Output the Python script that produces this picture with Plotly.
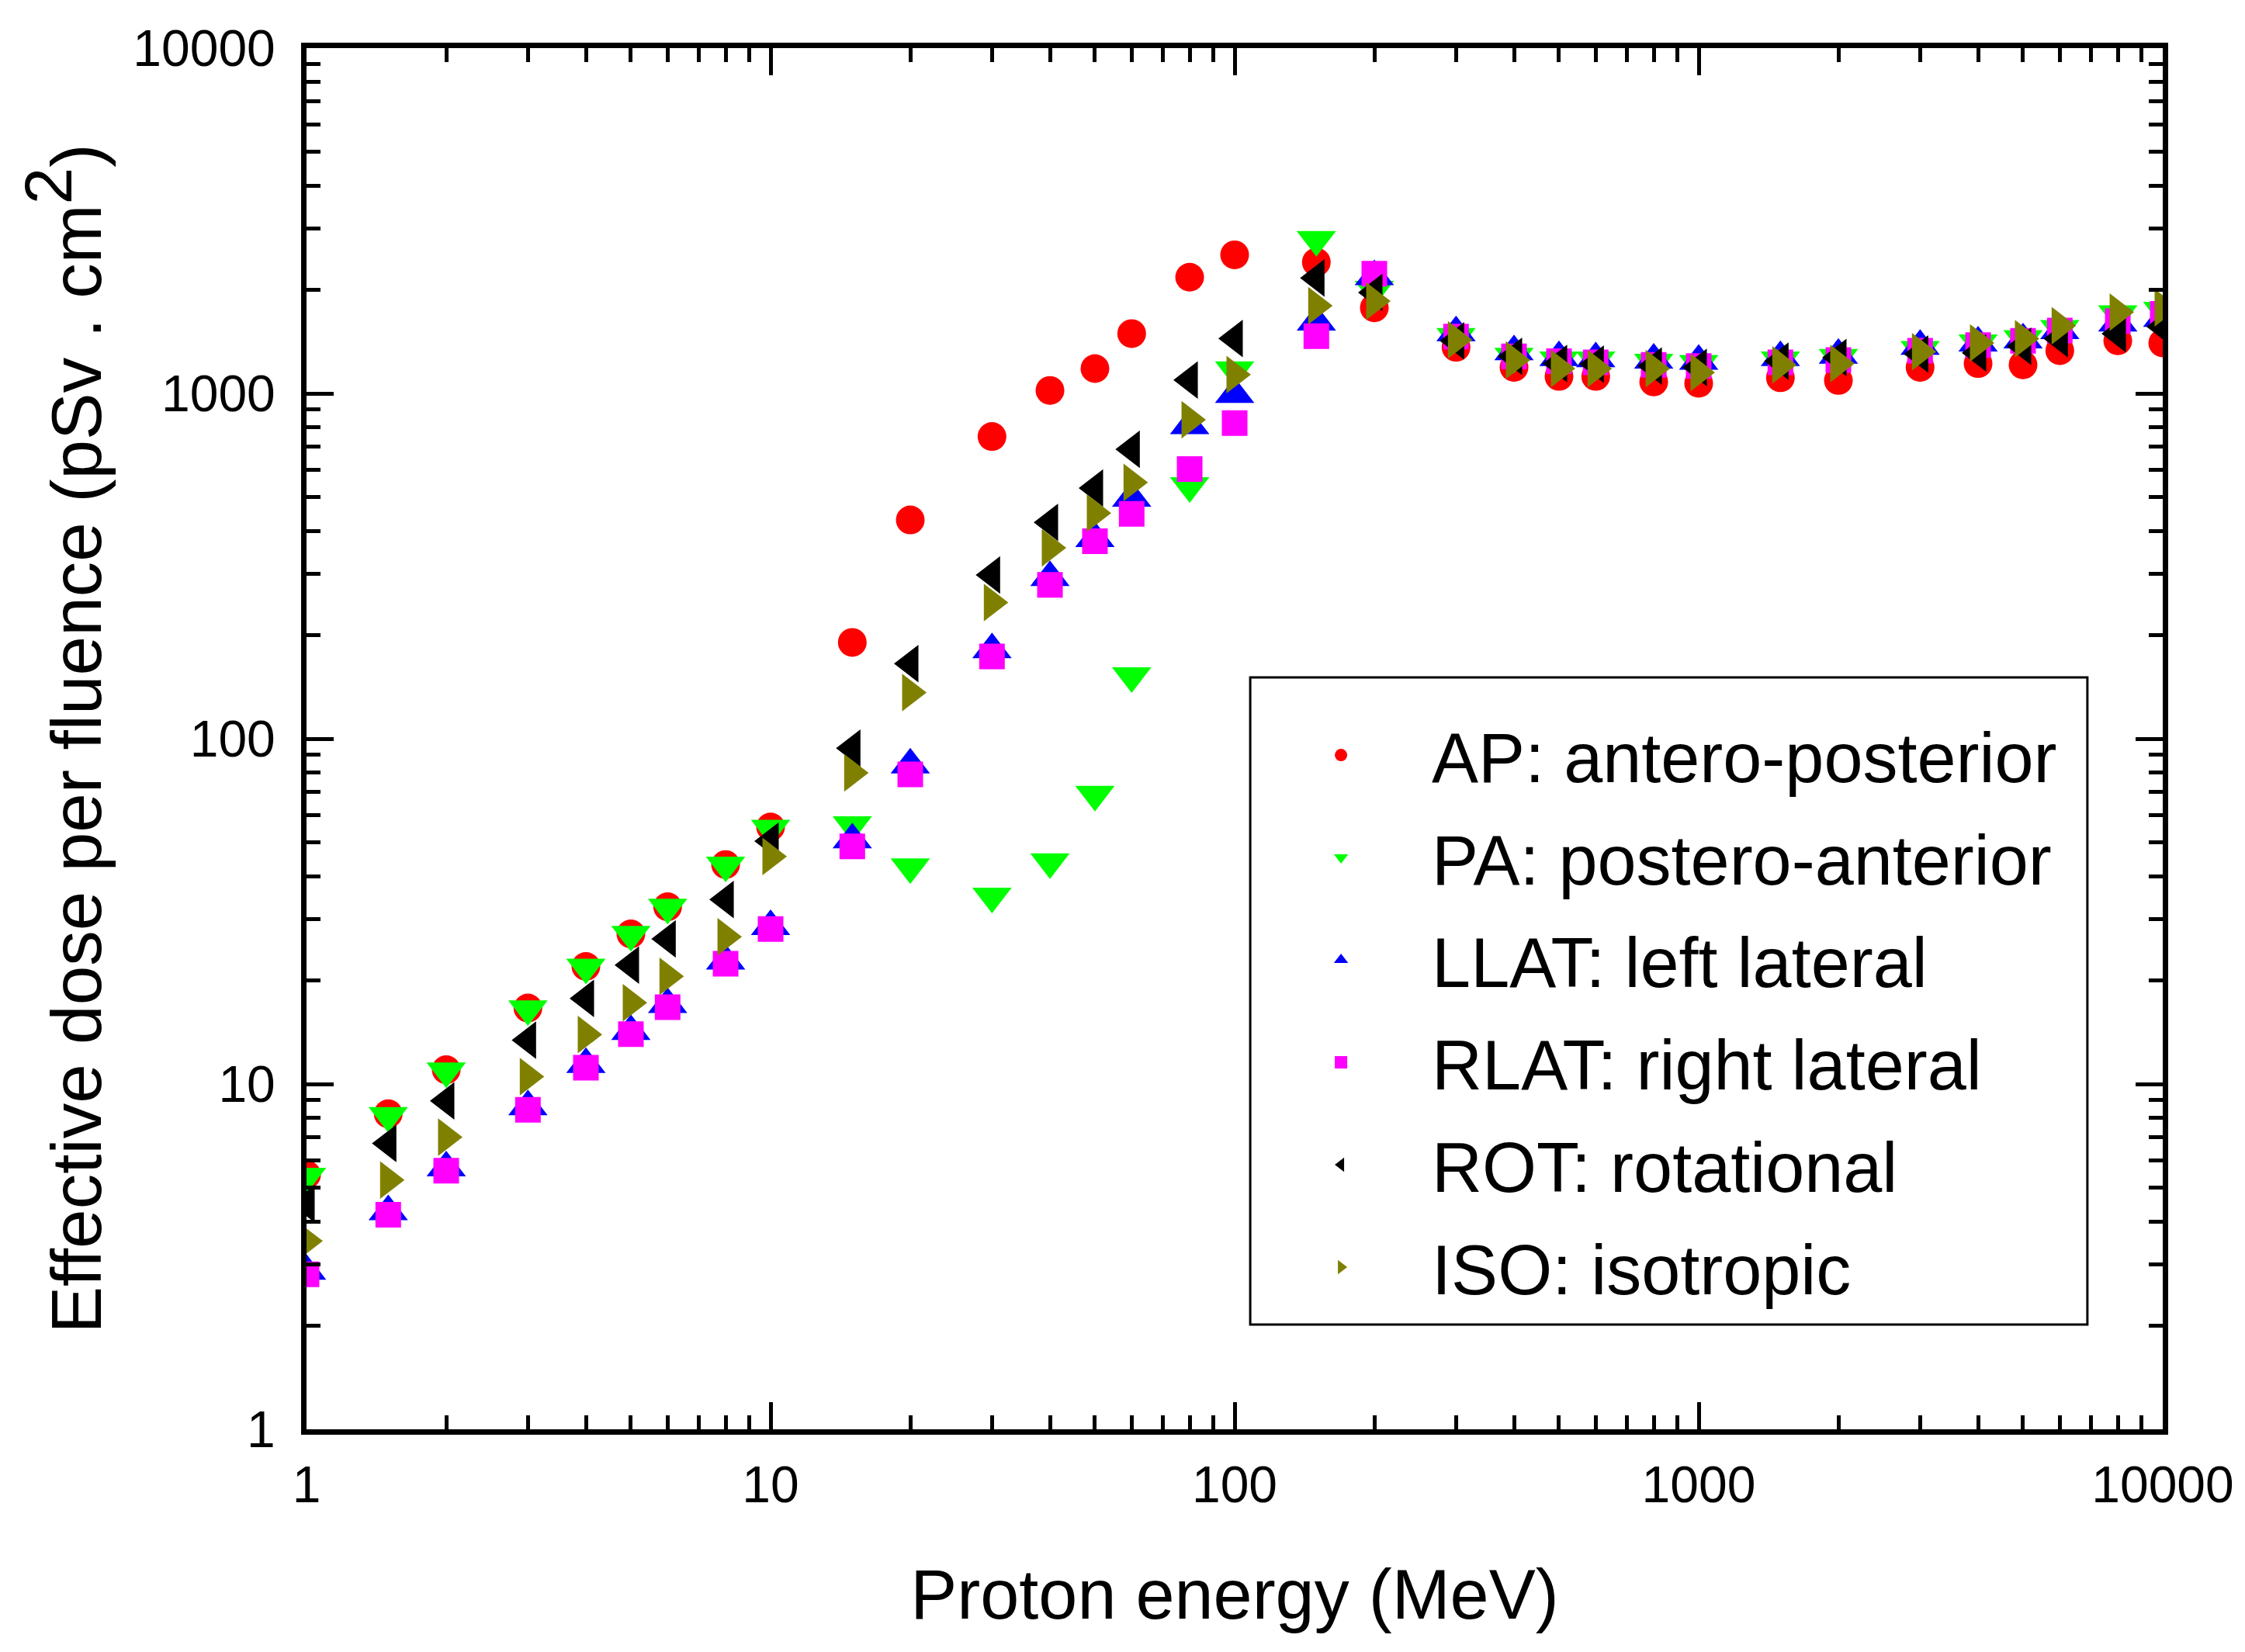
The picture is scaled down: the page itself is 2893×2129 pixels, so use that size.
import plotly.graph_objects as go

energy = [1, 1.5, 2, 3, 4, 5, 6, 8, 10, 15, 20, 30, 40, 50, 60, 80, 100, 150, 200,
          300, 400, 500, 600, 800, 1000, 1500, 2000, 3000, 4000, 5000, 6000, 8000, 10000]

ap = [5.46, 8.2, 11.0, 16.6, 21.9, 27.2, 32.6, 43.2, 55.5, 190, 430, 750, 1020, 1180, 1490, 2170, 2520,
      2400, 1770, 1360, 1190, 1120, 1120, 1080, 1070, 1110, 1090, 1190, 1220, 1210, 1330, 1420, 1400]
pa = [5.4, 8.1, 10.9, 16.5, 21.8, 27.1, 32.5, 43.0, 55.0, 56.3, 42.5, 35.0, 44.0, 69.0, 152, 540, 1170,
      2790, 2000, 1460, 1280, 1250, 1250, 1230, 1220, 1250, 1270, 1340, 1400, 1440, 1540, 1700, 1740]
llat = [2.87, 4.27, 5.72, 8.6, 11.4, 14.2, 17.0, 22.7, 28.6, 51, 84, 181, 293, 380, 497, 807, 993,
        1610, 2180, 1500, 1320, 1270, 1260, 1250, 1240, 1270, 1290, 1370, 1400, 1430, 1520, 1600, 1650]
rlat = [2.81, 4.18, 5.61, 8.42, 11.15, 13.95, 16.7, 22.3, 28.1, 48.8, 78.8, 173, 279, 373, 448, 604, 820,
        1465, 2220, 1460, 1280, 1240, 1230, 1210, 1200, 1230, 1250, 1330, 1380, 1420, 1520, 1620, 1700]
rot = [4.5, 6.73, 8.94, 13.4, 17.7, 22.1, 26.3, 34.2, 50.5, 93.8, 165, 298, 423, 532, 689, 1093, 1443,
       2160, 1960, 1420, 1280, 1220, 1215, 1200, 1190, 1240, 1270, 1300, 1310, 1370, 1440, 1490, 1560]
iso = [3.51, 5.27, 7.02, 10.5, 13.9, 17.2, 20.5, 26.7, 45.6, 79.6, 136, 248, 357, 450, 552, 839, 1133,
       1795, 1850, 1430, 1250, 1180, 1180, 1180, 1150, 1210, 1220, 1320, 1400, 1440, 1570, 1720, 1770]

series_names = ["AP: antero-posterior", "PA: postero-anterior", "LLAT: left lateral",
                "RLAT: right lateral", "ROT: rotational", "ISO: isotropic"]
series_values = [ap, pa, llat, rlat, rot, iso]
series_colors = ["#FF0000", "#00FF00", "#0000FF", "#FF00FF", "#000000", "#808000"]
series_symbols = ["circle", "triangle-down", "triangle-up", "square", "triangle-left", "triangle-right"]
series_sizes = [37, 44, 44, 33, 42, 42]

tick_vals = [1, 10, 100, 1000, 10000]
tick_text = ["1", "10", "100", "1000", "10000"]
minor_vals = [m * 10 ** d for d in range(4) for m in range(2, 10)]

FONT = "Arial, 'Liberation Sans', sans-serif"

fig = go.Figure()
for i, (name, vals, col, sym, sz) in enumerate(zip(series_names, series_values, series_colors,
                                                    series_symbols, series_sizes)):
    fig.add_trace(go.Scatter(
        x=energy, y=vals, name=name, mode="markers", legendgroup=f"g{i}",
        marker=dict(color=col, symbol=sym, size=sz, line=dict(width=0)),
        cliponaxis=True,
    ))

axis_common = dict(
    type="log", range=[0, 4], showgrid=False, zeroline=False,
    showline=True, linecolor="black", linewidth=7, mirror="ticks",
    ticks="inside", ticklen=35, tickwidth=5, tickcolor="black",
    tickmode="array", tickvals=tick_vals, ticktext=tick_text,
    tickfont=dict(family=FONT, size=66, color="black"),
    minor=dict(ticks="inside", ticklen=18, tickwidth=5, tickcolor="black",
               tickvals=minor_vals, showgrid=False),
)

fig.update_layout(
    width=2893, height=2129,
    margin=dict(l=395, r=106, t=62, b=287),
    paper_bgcolor="white", plot_bgcolor="white",
    font=dict(family=FONT, color="black"),
    xaxis=dict(axis_common, ticklabelstandoff=8,
               title=dict(text="Proton energy (MeV)",
                          font=dict(family=FONT, size=90), standoff=76)),
    yaxis=dict(axis_common, ticklabelstandoff=20,
               title=dict(text="Effective dose per fluence (pSv . cm<sup><span style=\"font-size:86px\">2</span></sup>)",
                          font=dict(family=FONT, size=91), standoff=13)),
    legend=dict(x=0.5084, y=0.5247, xanchor="left", yanchor="top",
                borderwidth=0, bgcolor="rgba(0,0,0,0)",
                font=dict(family=FONT, size=90, color="black"),
                itemwidth=224, tracegroupgap=12, traceorder="grouped",
                itemsizing="trace"),
    showlegend=True,
    shapes=[dict(type="rect", xref="paper", yref="paper",
                 x0=0.5084, x1=0.9594, y0=0.0758, y1=0.5444,
                 line=dict(color="black", width=3), fillcolor="rgba(0,0,0,0)",
                 layer="above")],
)

fig.write_html("out.html")
